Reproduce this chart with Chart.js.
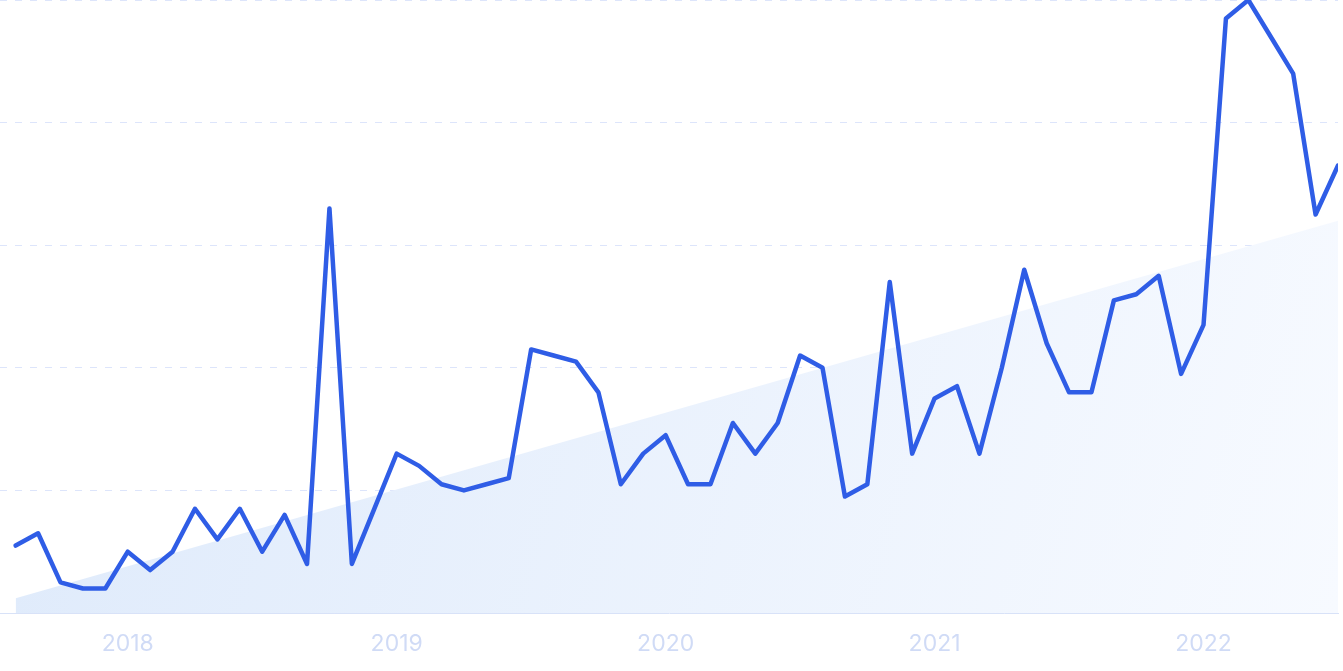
<!DOCTYPE html>
<html>
<head>
<meta charset="utf-8">
<script src="https://cdn.jsdelivr.net/npm/chart.js@4/dist/chart.umd.min.js"></script>
<style>
  html, body { margin: 0; padding: 0; background: #fff; }
  #wrap { width: 1343px; height: 671px; }
</style>
</head>
<body>
<div id="wrap"><canvas id="myChart"></canvas></div>
<script>
// monthly points, Aug 2017 .. Jul 2022
var months = [
  '2017-08','2017-09','2017-10','2017-11','2017-12',
  '2018-01','2018-02','2018-03','2018-04','2018-05','2018-06','2018-07','2018-08','2018-09','2018-10','2018-11','2018-12',
  '2019-01','2019-02','2019-03','2019-04','2019-05','2019-06','2019-07','2019-08','2019-09','2019-10','2019-11','2019-12',
  '2020-01','2020-02','2020-03','2020-04','2020-05','2020-06','2020-07','2020-08','2020-09','2020-10','2020-11','2020-12',
  '2021-01','2021-02','2021-03','2021-04','2021-05','2021-06','2021-07','2021-08','2021-09','2021-10','2021-11','2021-12',
  '2022-01','2022-02','2022-03','2022-04','2022-05','2022-06','2022-07'
];
var values = [
  11, 13, 5, 4, 4,
  10, 7, 10, 17, 12, 17, 10, 16, 8, 66, 8, 17,
  26, 24, 21, 20, 21, 22, 43, 42, 41, 36, 21, 26,
  29, 21, 21, 31, 26, 31, 42, 40, 19, 21, 54, 26,
  35, 37, 26, 40, 56, 44, 36, 36, 51, 52, 55, 39,
  47, 97, 100, 94, 88, 65, 73
];
// trend line end values (first month, last month)
var trendStart = 2.4;
var trendEnd = 64;
var years = ['2018', '2019', '2020', '2021', '2022'];
var yTicks = [0, 20, 40, 60, 80, 100];

var yearIndex = years.map(function (y) { return months.indexOf(y + '-01'); });
var lineData = values.map(function (v, i) { return { x: i, y: v }; });
var trendData = [
  { x: 0, y: trendStart },
  { x: months.length - 1, y: trendEnd }
];

function trendFill(context) {
  var chart = context.chart;
  var area = chart.chartArea;
  if (!area) return 'rgba(226,237,251,0.9)';
  var g = chart.ctx.createLinearGradient(area.left, area.top + area.height * 0.4, area.right, area.bottom);
  g.addColorStop(0, 'rgba(222,234,251,1)');
  g.addColorStop(1, 'rgba(247,250,255,1)');
  return g;
}

var ctx = document.getElementById('myChart').getContext('2d');
var myChart = new Chart(ctx, {
  type: 'line',
  data: {
    datasets: [{
      data: lineData,
      borderColor: '#2f5de6',
      borderWidth: 4.5,
      pointRadius: 0,
      tension: 0,
      borderJoinStyle: 'round',
      borderCapStyle: 'round',
      fill: false,
      order: 1
    }, {
      data: trendData,
      borderWidth: 0,
      borderColor: 'rgba(0,0,0,0)',
      backgroundColor: trendFill,
      pointRadius: 0,
      fill: 'origin',
      order: 2
    }]
  },
  options: {
    responsive: true,
    maintainAspectRatio: false,
    animation: false,
    layout: { padding: { left: 0, right: 5, top: 0, bottom: 0 } },
    plugins: {
      legend: { display: false },
      tooltip: { enabled: false }
    },
    scales: {
      x: {
        type: 'linear',
        min: -0.7,
        max: months.length - 1,
        afterBuildTicks: function (axis) {
          axis.ticks = yearIndex.map(function (i) { return { value: i }; });
        },
        afterFit: function (axis) { axis.height = 58; },
        ticks: {
          autoSkip: false,
          maxRotation: 0,
          padding: 17,
          color: '#d0dbf6',
          font: { family: 'Inter', size: 23 },
          callback: function (value) {
            var k = yearIndex.indexOf(value);
            return k >= 0 ? years[k] : '';
          }
        },
        grid: { display: false, drawTicks: false },
        border: { display: true, color: '#d8e2f8', width: 1 }
      },
      y: {
        min: 0,
        max: 100,
        afterBuildTicks: function (axis) {
          axis.ticks = yTicks.map(function (v) { return { value: v }; });
        },
        ticks: { display: false },
        grid: { color: '#dde5fb', lineWidth: 1, drawTicks: false },
        border: { display: false, dash: [7, 8] }
      }
    }
  }
});
</script>
</body>
</html>
